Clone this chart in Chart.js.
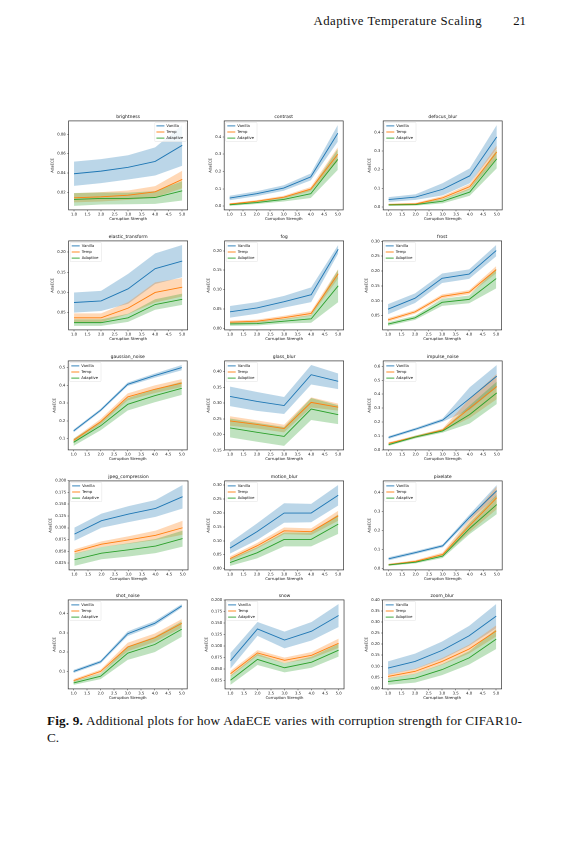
<!DOCTYPE html>
<html>
<head>
<meta charset="utf-8">
<title>AdaECE vs corruption strength</title>
<script src="https://cdn.jsdelivr.net/npm/chart.js@4.4.0/dist/chart.umd.min.js"></script>
<style>
  body { margin: 0; background: #fff; width: 575px; height: 854px; position: relative; overflow: hidden; }
  .panel { position: absolute; }
  .serif { position: absolute; font-family: "Liberation Serif", "DejaVu Serif", serif; color: #111; white-space: nowrap; }
  #running { right: 93px; top: 14px; font-size: 12.8px; line-height: 15px; letter-spacing: 0.45px; }
  #pageno { right: 49px; top: 14px; font-size: 12.8px; line-height: 15px; }
  #caption1 { left: 47px; top: 712px; width: 475px; font-size: 13.2px; line-height: 17px; letter-spacing: 0.15px; text-align: justify; text-align-last: justify; }
  #caption2 { left: 47px; top: 729px; font-size: 13.2px; line-height: 17px; }
</style>
</head>
<body>
<div id="running" class="serif">Adaptive Temperature Scaling</div>
<div id="pageno" class="serif">21</div>
<div id="caption1" class="serif"><b>Fig. 9.</b> Additional plots for how AdaECE varies with corruption strength for CIFAR10-</div>
<div id="caption2" class="serif">C.</div>
<script>
// x values and labels shared by every panel
var strength = [1, 2, 3, 4, 5];
var x_ticks = [1.0, 1.5, 2.0, 2.5, 3.0, 3.5, 4.0, 4.5, 5.0];
var x_tick_labels = ["1.0", "1.5", "2.0", "2.5", "3.0", "3.5", "4.0", "4.5", "5.0"];
var series_names = ["Vanilla", "Temp", "Adaptive"];

// AdaECE mean and std per corruption strength
var brightness_vanilla = [0.0393, 0.0420, 0.0459, 0.0520, 0.0686];
var brightness_vanilla_sd = [0.0125, 0.0124, 0.0125, 0.0145, 0.0210];
var brightness_temp = [0.0145, 0.0155, 0.0172, 0.0207, 0.0334];
var brightness_temp_sd = [0.0047, 0.0048, 0.0048, 0.0059, 0.0090];
var brightness_adaptive = [0.0128, 0.0138, 0.0138, 0.0148, 0.0217];
var brightness_adaptive_sd = [0.0066, 0.0062, 0.0060, 0.0066, 0.0100];
var brightness_ticks = ["0.02", "0.04", "0.06", "0.08"];

var contrast_vanilla = [0.047, 0.072, 0.105, 0.169, 0.421];
var contrast_vanilla_sd = [0.013, 0.014, 0.016, 0.020, 0.048];
var contrast_temp = [0.012, 0.029, 0.052, 0.099, 0.300];
var contrast_temp_sd = [0.005, 0.006, 0.008, 0.012, 0.040];
var contrast_adaptive = [0.008, 0.021, 0.039, 0.072, 0.270];
var contrast_adaptive_sd = [0.006, 0.008, 0.012, 0.025, 0.060];
var contrast_ticks = ["0.0", "0.1", "0.2", "0.3", "0.4"];

var defocus_vanilla = [0.040, 0.053, 0.095, 0.167, 0.376];
var defocus_vanilla_sd = [0.013, 0.015, 0.033, 0.040, 0.064];
var defocus_temp = [0.013, 0.016, 0.049, 0.109, 0.295];
var defocus_temp_sd = [0.005, 0.006, 0.010, 0.015, 0.035];
var defocus_adaptive = [0.011, 0.013, 0.031, 0.080, 0.258];
var defocus_adaptive_sd = [0.005, 0.006, 0.012, 0.020, 0.050];
var defocus_ticks = ["0.0", "0.1", "0.2", "0.3", "0.4"];

var elastic_vanilla = [0.075, 0.079, 0.109, 0.159, 0.178];
var elastic_vanilla_sd = [0.025, 0.025, 0.037, 0.038, 0.040];
var elastic_temp = [0.037, 0.037, 0.061, 0.100, 0.113];
var elastic_temp_sd = [0.011, 0.011, 0.015, 0.025, 0.023];
var elastic_adaptive = [0.025, 0.025, 0.037, 0.070, 0.083];
var elastic_adaptive_sd = [0.008, 0.008, 0.010, 0.013, 0.014];
var elastic_ticks = ["0.05", "0.10", "0.15", "0.20"];

var fog_vanilla = [0.043, 0.053, 0.069, 0.087, 0.204];
var fog_vanilla_sd = [0.015, 0.015, 0.015, 0.019, 0.011];
var fog_temp = [0.0165, 0.019, 0.028, 0.039, 0.141];
var fog_temp_sd = [0.004, 0.004, 0.005, 0.006, 0.012];
var fog_adaptive = [0.012, 0.013, 0.019, 0.025, 0.110];
var fog_adaptive_sd = [0.005, 0.005, 0.006, 0.010, 0.042];
var fog_ticks = ["0.00", "0.05", "0.10", "0.15", "0.20"];

var frost_vanilla = [0.072, 0.109, 0.176, 0.190, 0.269];
var frost_vanilla_sd = [0.017, 0.016, 0.016, 0.016, 0.019];
var frost_temp = [0.036, 0.063, 0.115, 0.129, 0.205];
var frost_temp_sd = [0.006, 0.006, 0.007, 0.007, 0.012];
var frost_adaptive = [0.022, 0.043, 0.095, 0.105, 0.175];
var frost_adaptive_sd = [0.006, 0.007, 0.012, 0.013, 0.033];
var frost_ticks = ["0.05", "0.10", "0.15", "0.20", "0.25", "0.30"];

var gaussian_vanilla = [0.143, 0.260, 0.406, 0.455, 0.500];
var gaussian_vanilla_sd = [0.008, 0.008, 0.010, 0.012, 0.015];
var gaussian_temp = [0.090, 0.195, 0.335, 0.378, 0.413];
var gaussian_temp_sd = [0.010, 0.015, 0.020, 0.022, 0.022];
var gaussian_adaptive = [0.079, 0.172, 0.293, 0.342, 0.383];
var gaussian_adaptive_sd = [0.020, 0.025, 0.035, 0.037, 0.037];
var gaussian_ticks = ["0.1", "0.2", "0.3", "0.4", "0.5"];

var glass_vanilla = [0.321, 0.305, 0.292, 0.390, 0.369];
var glass_vanilla_sd = [0.031, 0.030, 0.027, 0.031, 0.025];
var glass_temp = [0.243, 0.232, 0.219, 0.302, 0.287];
var glass_temp_sd = [0.015, 0.013, 0.012, 0.016, 0.011];
var glass_adaptive = [0.221, 0.207, 0.194, 0.281, 0.263];
var glass_adaptive_sd = [0.030, 0.030, 0.030, 0.035, 0.030];
var glass_ticks = ["0.15", "0.20", "0.25", "0.30", "0.35", "0.40"];

var impulse_vanilla = [0.090, 0.150, 0.215, 0.370, 0.530];
var impulse_vanilla_sd = [0.010, 0.010, 0.012, 0.080, 0.080];
var impulse_temp = [0.048, 0.095, 0.144, 0.300, 0.455];
var impulse_temp_sd = [0.008, 0.008, 0.010, 0.070, 0.090];
var impulse_adaptive = [0.038, 0.094, 0.137, 0.255, 0.410];
var impulse_adaptive_sd = [0.008, 0.010, 0.012, 0.065, 0.080];
var impulse_ticks = ["0.0", "0.1", "0.2", "0.3", "0.4", "0.5", "0.6"];

var jpeg_vanilla = [0.0864, 0.115, 0.129, 0.141, 0.166];
var jpeg_vanilla_sd = [0.014, 0.015, 0.017, 0.018, 0.025];
var jpeg_temp = [0.049, 0.065, 0.074, 0.084, 0.100];
var jpeg_temp_sd = [0.005, 0.006, 0.008, 0.010, 0.015];
var jpeg_adaptive = [0.032, 0.046, 0.053, 0.061, 0.077];
var jpeg_adaptive_sd = [0.013, 0.013, 0.014, 0.015, 0.017];
var jpeg_ticks = ["0.025", "0.050", "0.075", "0.100", "0.125", "0.150", "0.175", "0.200"];

var motion_vanilla = [0.074, 0.133, 0.200, 0.200, 0.264];
var motion_vanilla_sd = [0.020, 0.030, 0.035, 0.033, 0.037];
var motion_temp = [0.036, 0.082, 0.136, 0.133, 0.190];
var motion_temp_sd = [0.008, 0.010, 0.012, 0.012, 0.018];
var motion_adaptive = [0.022, 0.057, 0.105, 0.105, 0.160];
var motion_adaptive_sd = [0.012, 0.020, 0.025, 0.025, 0.035];
var motion_ticks = ["0.00", "0.05", "0.10", "0.15", "0.20", "0.25", "0.30"];

var pixelate_vanilla = [0.052, 0.085, 0.120, 0.271, 0.410];
var pixelate_vanilla_sd = [0.008, 0.008, 0.008, 0.015, 0.030];
var pixelate_temp = [0.021, 0.039, 0.075, 0.227, 0.373];
var pixelate_temp_sd = [0.005, 0.006, 0.010, 0.035, 0.060];
var pixelate_adaptive = [0.020, 0.034, 0.066, 0.212, 0.337];
var pixelate_adaptive_sd = [0.005, 0.006, 0.010, 0.030, 0.050];
var pixelate_ticks = ["0.0", "0.1", "0.2", "0.3", "0.4"];

var shot_vanilla = [0.100, 0.150, 0.296, 0.350, 0.441];
var shot_vanilla_sd = [0.008, 0.008, 0.012, 0.012, 0.010];
var shot_temp = [0.052, 0.100, 0.227, 0.275, 0.350];
var shot_temp_sd = [0.008, 0.010, 0.022, 0.022, 0.022];
var shot_adaptive = [0.040, 0.075, 0.195, 0.240, 0.320];
var shot_adaptive_sd = [0.010, 0.015, 0.035, 0.040, 0.040];
var shot_ticks = ["0.1", "0.2", "0.3", "0.4"];

var snow_vanilla = [0.068, 0.137, 0.113, 0.132, 0.166];
var snow_vanilla_sd = [0.017, 0.015, 0.018, 0.020, 0.025];
var snow_temp = [0.040, 0.085, 0.069, 0.080, 0.106];
var snow_temp_sd = [0.006, 0.006, 0.006, 0.007, 0.010];
var snow_adaptive = [0.026, 0.071, 0.053, 0.065, 0.091];
var snow_adaptive_sd = [0.010, 0.012, 0.010, 0.012, 0.014];
var snow_ticks = ["0.025", "0.050", "0.075", "0.100", "0.125", "0.150", "0.175", "0.200"];

var zoom_vanilla = [0.092, 0.122, 0.172, 0.238, 0.327];
var zoom_vanilla_sd = [0.030, 0.035, 0.040, 0.045, 0.055];
var zoom_temp = [0.054, 0.077, 0.122, 0.178, 0.260];
var zoom_temp_sd = [0.010, 0.012, 0.015, 0.020, 0.025];
var zoom_adaptive = [0.031, 0.046, 0.085, 0.138, 0.223];
var zoom_adaptive_sd = [0.015, 0.020, 0.025, 0.030, 0.045];
var zoom_ticks = ["0.00", "0.05", "0.10", "0.15", "0.20", "0.25", "0.30", "0.35", "0.40"];

// name, [mean, sd] x3, y tick labels
var plots = [
  ["brightness", brightness_vanilla, brightness_vanilla_sd, brightness_temp, brightness_temp_sd, brightness_adaptive, brightness_adaptive_sd, brightness_ticks],
  ["contrast", contrast_vanilla, contrast_vanilla_sd, contrast_temp, contrast_temp_sd, contrast_adaptive, contrast_adaptive_sd, contrast_ticks],
  ["defocus_blur", defocus_vanilla, defocus_vanilla_sd, defocus_temp, defocus_temp_sd, defocus_adaptive, defocus_adaptive_sd, defocus_ticks],
  ["elastic_transform", elastic_vanilla, elastic_vanilla_sd, elastic_temp, elastic_temp_sd, elastic_adaptive, elastic_adaptive_sd, elastic_ticks],
  ["fog", fog_vanilla, fog_vanilla_sd, fog_temp, fog_temp_sd, fog_adaptive, fog_adaptive_sd, fog_ticks],
  ["frost", frost_vanilla, frost_vanilla_sd, frost_temp, frost_temp_sd, frost_adaptive, frost_adaptive_sd, frost_ticks],
  ["gaussian_noise", gaussian_vanilla, gaussian_vanilla_sd, gaussian_temp, gaussian_temp_sd, gaussian_adaptive, gaussian_adaptive_sd, gaussian_ticks],
  ["glass_blur", glass_vanilla, glass_vanilla_sd, glass_temp, glass_temp_sd, glass_adaptive, glass_adaptive_sd, glass_ticks],
  ["impulse_noise", impulse_vanilla, impulse_vanilla_sd, impulse_temp, impulse_temp_sd, impulse_adaptive, impulse_adaptive_sd, impulse_ticks],
  ["jpeg_compression", jpeg_vanilla, jpeg_vanilla_sd, jpeg_temp, jpeg_temp_sd, jpeg_adaptive, jpeg_adaptive_sd, jpeg_ticks],
  ["motion_blur", motion_vanilla, motion_vanilla_sd, motion_temp, motion_temp_sd, motion_adaptive, motion_adaptive_sd, motion_ticks],
  ["pixelate", pixelate_vanilla, pixelate_vanilla_sd, pixelate_temp, pixelate_temp_sd, pixelate_adaptive, pixelate_adaptive_sd, pixelate_ticks],
  ["shot_noise", shot_vanilla, shot_vanilla_sd, shot_temp, shot_temp_sd, shot_adaptive, shot_adaptive_sd, shot_ticks],
  ["snow", snow_vanilla, snow_vanilla_sd, snow_temp, snow_temp_sd, snow_adaptive, snow_adaptive_sd, snow_ticks],
  ["zoom_blur", zoom_vanilla, zoom_vanilla_sd, zoom_temp, zoom_temp_sd, zoom_adaptive, zoom_adaptive_sd, zoom_ticks]
];

// page layout of the axes boxes
var col_left = [68.6, 224.6, 382.9];
var row_top = 121, row_step = 119.8;
var box_w = 119, box_h = 89;

var colors = ["#1f77b4", "#ff7f0e", "#2ca02c"];
var band_colors = ["rgba(31,119,180,0.3)", "rgba(255,127,14,0.3)", "rgba(44,160,44,0.3)"];
var small = 3.8;

Chart.defaults.font.family = "'DejaVu Sans', sans-serif";
Chart.defaults.color = "#111";

var frame_plugin = {
  id: "frame",
  afterDatasetsDraw: function (chart) {
    var a = chart.chartArea, ctx = chart.ctx;
    ctx.save();
    ctx.strokeStyle = "#333";
    ctx.lineWidth = 0.7;
    ctx.strokeRect(a.left, a.top, a.width, a.height);
    ctx.restore();
  }
};

var legend_plugin = {
  id: "inner_legend",
  afterDraw: function (chart, args, opts) {
    var a = chart.chartArea, ctx = chart.ctx;
    ctx.save();
    ctx.font = small + "px 'DejaVu Sans'";
    var text_w = 0;
    series_names.forEach(function (n) { text_w = Math.max(text_w, ctx.measureText(n).width); });
    var w = 13 + text_w + 1.5, h = 3 * 6.1 + 1;
    var x0 = opts.right ? a.right - 1.5 - w : a.left + 1.5;
    var y0 = a.top + 1.5;
    ctx.fillStyle = "rgba(255,255,255,0.8)";
    ctx.strokeStyle = "#dadada";
    ctx.lineWidth = 0.4;
    ctx.beginPath();
    ctx.roundRect(x0, y0, w, h, 1);
    ctx.fill();
    ctx.stroke();
    ctx.textBaseline = "middle";
    series_names.forEach(function (n, k) {
      var y = y0 + 3.5 + k * 6.1;
      ctx.strokeStyle = colors[k];
      ctx.lineWidth = 0.9;
      ctx.beginPath();
      ctx.moveTo(x0 + 1.6, y);
      ctx.lineTo(x0 + 9.6, y);
      ctx.stroke();
      ctx.fillStyle = "#111";
      ctx.fillText(n, x0 + 11.6, y);
    });
    ctx.restore();
  }
};

function points(mean, sd, sign) {
  return strength.map(function (x, k) { return { x: x, y: mean[k] + sign * sd[k] }; });
}

function make_config(p, pad_r, pad_b) {
  var datasets = [];
  var lo = Infinity, hi = -Infinity;
  for (var s = 0; s < 3; s++) {
    var mean = p[1 + s * 2], sd = p[2 + s * 2];
    for (var k = 0; k < mean.length; k++) {
      lo = Math.min(lo, mean[k] - sd[k]);
      hi = Math.max(hi, mean[k] + sd[k]);
    }
    // band: lower edge, then upper edge filled down to it
    datasets.push({ data: points(mean, sd, -1), borderColor: "rgba(0,0,0,0)", borderWidth: 0, pointRadius: 0, fill: false, order: 6 - s });
    datasets.push({ data: points(mean, sd, 1), borderColor: "rgba(0,0,0,0)", borderWidth: 0, pointRadius: 0, fill: "-1", backgroundColor: band_colors[s], order: 6 - s });
  }
  for (var s2 = 0; s2 < 3; s2++) {
    datasets.push({ label: series_names[s2], data: points(p[1 + s2 * 2], p[2 + s2 * 2], 0), borderColor: colors[s2], borderWidth: 0.9, pointRadius: 0, fill: false, tension: 0, order: 3 - s2 });
  }
  // matplotlib style 5% margins
  var margin = (hi - lo) * 0.05;
  var y_min = lo - margin, y_max = hi + margin;
  var tol = (y_max - y_min) * 0.005;
  var shown = p[7].filter(function (t) { var v = parseFloat(t); return v >= y_min - tol && v <= y_max + tol; });

  var tick_grid = { display: true, drawOnChartArea: false, drawTicks: true, tickLength: 1.4, color: "#333", lineWidth: 0.5 };
  return {
    type: "line",
    data: { datasets: datasets },
    plugins: [frame_plugin, legend_plugin],
    options: {
      responsive: false,
      animation: false,
      devicePixelRatio: 2,
      events: [],
      layout: { padding: { left: 0, top: 0, right: pad_r, bottom: pad_b } },
      scales: {
        x: {
          type: "linear", min: 0.8, max: 5.2,
          afterBuildTicks: function (scale) { scale.ticks = x_ticks.map(function (v) { return { value: v }; }); },
          afterFit: function (scale) { scale.height = 11.5; },
          ticks: { callback: function (v, i) { return x_tick_labels[i]; }, font: { size: small }, padding: 1, maxRotation: 0, autoSkip: false },
          grid: tick_grid,
          border: { display: false },
          title: { display: true, text: "Corruption Strength", font: { size: small }, padding: 0 }
        },
        y: {
          type: "linear", min: y_min, max: y_max,
          afterBuildTicks: function (scale) { scale.ticks = shown.map(function (t) { return { value: parseFloat(t) }; }); },
          ticks: { callback: function (v, i) { return shown[i]; }, font: { size: small }, padding: 1.5, autoSkip: false },
          grid: tick_grid,
          border: { display: false },
          title: { display: true, text: "AdaECE", font: { size: small }, padding: { top: 0, bottom: 1.2 } }
        }
      },
      plugins: {
        legend: { display: false },
        tooltip: { enabled: false },
        title: { display: true, text: p[0], fullSize: false, font: { size: 4.5, weight: "normal" }, padding: { top: 0, bottom: 1.5 } },
        inner_legend: { right: p[0] === "brightness" }
      }
    }
  };
}

function set_size(canvas, w, h) {
  canvas.width = w;
  canvas.height = h;
  canvas.style.width = w + "px";
  canvas.style.height = h + "px";
}

function draw_panel(p, n) {
  var wrap = document.createElement("div");
  wrap.className = "panel";
  document.body.appendChild(wrap);
  var canvas = document.createElement("canvas");
  wrap.appendChild(canvas);

  // first pass only to learn how much room the axes take
  set_size(canvas, 170, 115);
  var chart = new Chart(canvas, make_config(p, 0, 0));
  var a = chart.chartArea;
  var need_w = a.left + box_w;
  var need_h = a.top + box_h + (115 - a.bottom);
  chart.destroy();

  var w = Math.ceil(need_w + 1), h = Math.ceil(need_h);
  set_size(canvas, w, h);
  chart = new Chart(canvas, make_config(p, w - need_w, h - need_h));
  wrap.style.left = (col_left[n % 3] - chart.chartArea.left) + "px";
  wrap.style.top = (row_top + row_step * Math.floor(n / 3) - chart.chartArea.top) + "px";
}

plots.forEach(draw_panel);
</script>
</body>
</html>
